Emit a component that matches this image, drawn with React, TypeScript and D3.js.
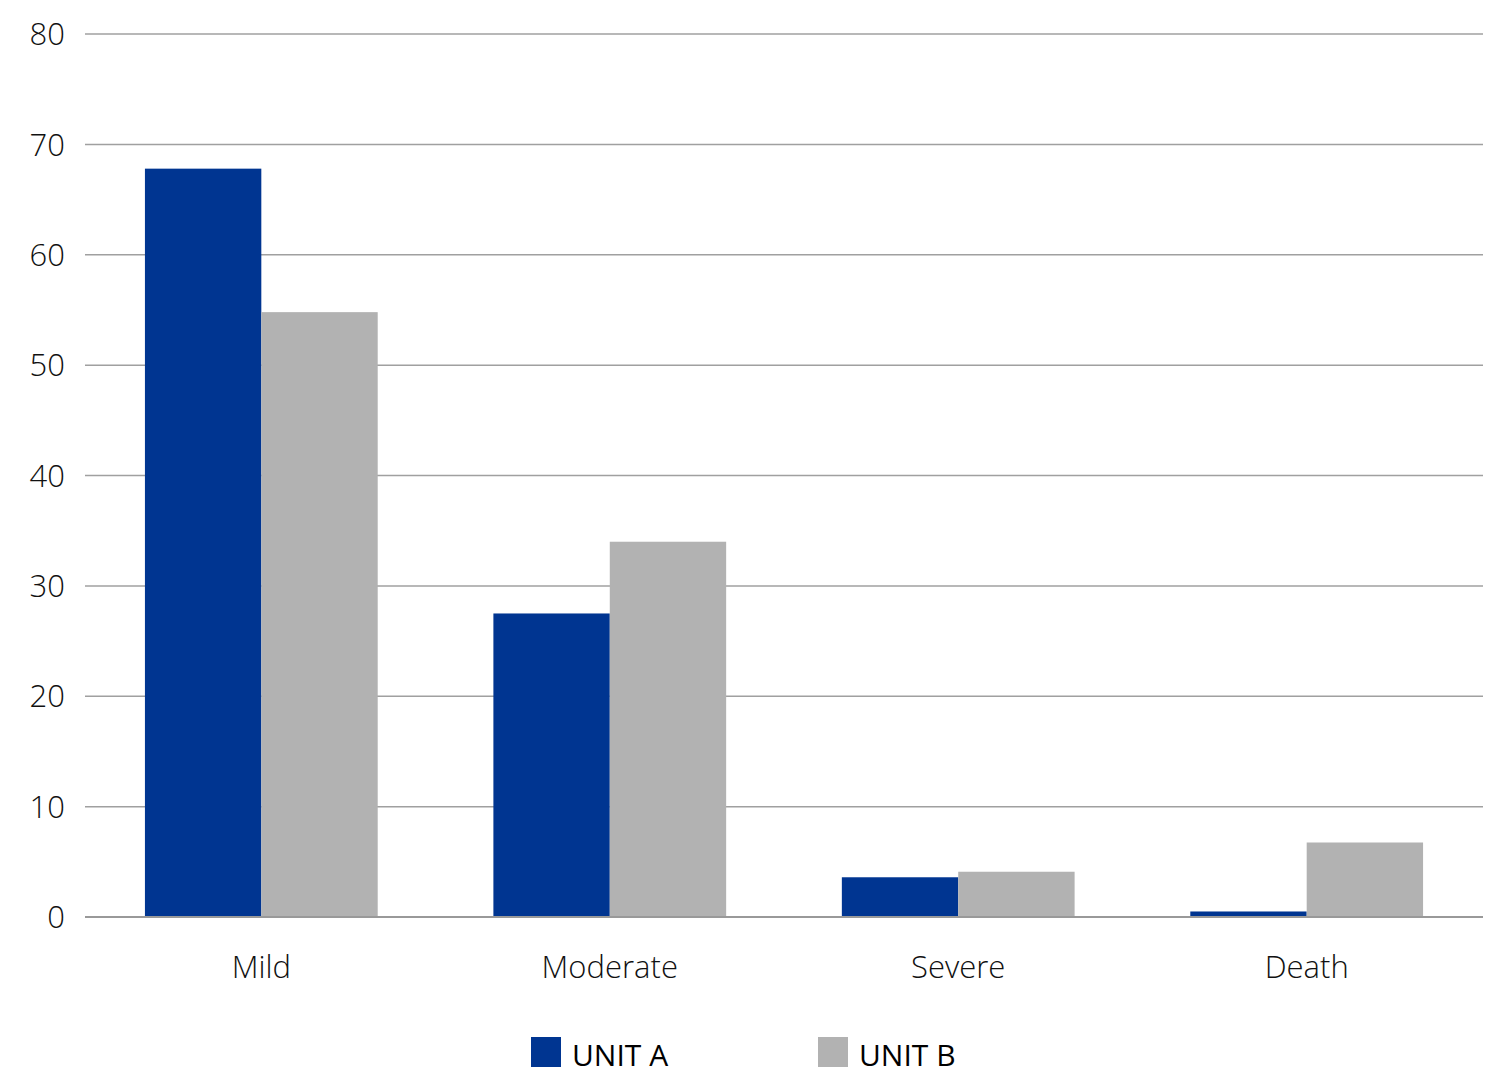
import React, { useEffect, useRef } from "react";
import * as d3 from "d3";

const categories = ["Mild", "Moderate", "Severe", "Death"];
const seriesNames = ["UNIT A", "UNIT B"];
const unitA = [67.8, 27.5, 3.6, 0.5];
const unitB = [54.8, 34.0, 4.1, 6.75];
const yTicks = [0, 10, 20, 30, 40, 50, 60, 70, 80];
const colors = ["#003591", "#b2b2b2"];

const App = () => {
  const ref = useRef<SVGSVGElement>(null);

  useEffect(() => {
    const width = 1495;
    const height = 1080;
    const margin = { top: 34, right: 12, bottom: 163, left: 85 };
    const chartW = width - margin.left - margin.right;
    const chartH = height - margin.top - margin.bottom;

    const svg = d3.select(ref.current);
    svg.selectAll("*").remove();

    const x = d3
      .scaleBand()
      .domain(categories)
      .range([0, chartW])
      .paddingInner(0.332)
      .paddingOuter(0.172);

    const xs = d3.scaleBand().domain(seriesNames).range([0, x.bandwidth()]);

    const y = d3.scaleLinear().domain([0, 80]).range([chartH, 0]);

    const g = svg
      .append("g")
      .attr("transform", `translate(${margin.left}, ${margin.top})`);

    // gridlines
    g.selectAll("line.grid")
      .data(yTicks)
      .join("line")
      .attr("class", "grid")
      .attr("x1", 0)
      .attr("x2", chartW)
      .attr("y1", (d) => y(d))
      .attr("y2", (d) => y(d))
      .attr("stroke", "#a0a0a0")
      .attr("stroke-width", 1.5);

    // y tick labels
    g.selectAll("text.ytick")
      .data(yTicks)
      .join("text")
      .attr("class", "ytick")
      .attr("x", -20)
      .attr("y", (d) => y(d))
      .attr("dy", "0.36em")
      .attr("text-anchor", "end")
      .attr("font-family", "Open Sans")
      .attr("font-weight", 300)
      .attr("font-size", 31)
      .attr("fill", "#111")
      .text((d) => d);

    const rows = categories.map((c, i) => ({ c, vals: [unitA[i], unitB[i]] }));

    const groups = g
      .selectAll("g.cat")
      .data(rows)
      .join("g")
      .attr("class", "cat")
      .attr("transform", (d) => `translate(${x(d.c)}, 0)`);

    groups
      .selectAll("rect")
      .data((d) => d.vals.map((v, i) => ({ name: seriesNames[i], v, i })))
      .join("rect")
      .attr("x", (d) => xs(d.name)!)
      .attr("y", (d) => y(d.v))
      .attr("width", xs.bandwidth())
      .attr("height", (d) => y(0) - y(d.v))
      .attr("fill", (d) => colors[d.i]);

    // baseline
    g.append("line")
      .attr("x1", 0)
      .attr("x2", chartW)
      .attr("y1", y(0))
      .attr("y2", y(0))
      .attr("stroke", "#999999")
      .attr("stroke-width", 2);

    // category labels
    g.selectAll("text.xtick")
      .data(categories)
      .join("text")
      .attr("class", "xtick")
      .attr("x", (d) => x(d)! + x.bandwidth() / 2)
      .attr("y", chartH + 61)
      .attr("text-anchor", "middle")
      .attr("font-family", "Open Sans")
      .attr("font-weight", 300)
      .attr("font-size", 31)
      .attr("fill", "#111")
      .text((d) => d);

    // legend
    const legendX = [531, 818];
    const legend = svg
      .selectAll("g.legend")
      .data(seriesNames)
      .join("g")
      .attr("class", "legend")
      .attr("transform", (d, i) => `translate(${legendX[i]}, 1037)`);

    legend
      .append("rect")
      .attr("width", 30)
      .attr("height", 30)
      .attr("fill", (d, i) => colors[i]);

    legend
      .append("text")
      .attr("x", 41)
      .attr("y", 29)
      .attr("font-family", "Open Sans")
      .attr("font-size", 30)
      .attr("fill", "#000")
      .text((d) => d);
  }, []);

  return (
    <svg
      ref={ref}
      width={1495}
      height={1080}
      style={{ position: "absolute", left: 0, top: 0, background: "#fff" }}
    ></svg>
  );
};

export default App;
